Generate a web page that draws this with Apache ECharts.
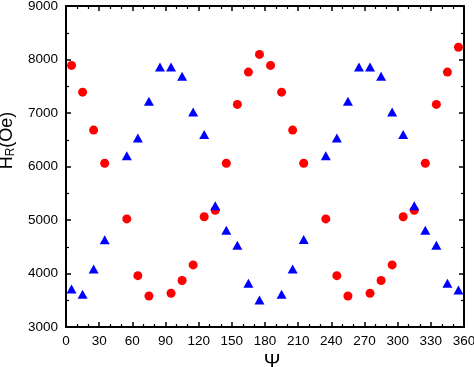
<!DOCTYPE html>
<html>
<head>
<meta charset="utf-8">
<script src="https://cdn.jsdelivr.net/npm/echarts@6/dist/echarts.min.js"></script>
<style>html,body{margin:0;padding:0;background:#fff;}#c{width:474px;height:367px;}</style>
</head>
<body>
<div id="c"></div>
<script>
const xTicks = [0, 30, 60, 90, 120, 150, 180, 210, 240, 270, 300, 330, 360];
const yTicks = [3000, 4000, 5000, 6000, 7000, 8000, 9000];

const redPsi = [5, 15, 25, 35, 55, 65, 75, 95, 105, 115, 125, 135, 145, 155, 165, 175, 185, 195, 205, 215, 235, 245, 255, 275, 285, 295, 305, 315, 325, 335, 345, 355];
const redHR  = [7890, 7390, 6680, 6060, 5020, 3960, 3580, 3630, 3870, 4160, 5060, 5180, 6060, 7160, 7765, 8095, 7890, 7390, 6680, 6060, 5020, 3960, 3580, 3630, 3870, 4160, 5060, 5180, 6060, 7160, 7765, 8230];

const bluePsi = [5, 15, 25, 35, 55, 65, 75, 85, 95, 105, 115, 125, 135, 145, 155, 165, 175, 195, 205, 215, 235, 245, 255, 265, 275, 285, 295, 305, 315, 325, 335, 345, 355];
const blueHR  = [3710, 3610, 4085, 4630, 6200, 6535, 7220, 7860, 7860, 7685, 7020, 6600, 5265, 4810, 4530, 3820, 3505, 3610, 4085, 4635, 6200, 6535, 7220, 7860, 7860, 7685, 7020, 6600, 5265, 4810, 4530, 3820, 3690];

const font = 'Liberation Sans, Arial, Helvetica, sans-serif';
const chart = echarts.init(document.getElementById('c'), null, {renderer: 'canvas'});

function xAxisCfg(pos, labels) {
  return {
    type: 'value', position: pos, min: xTicks[0], max: xTicks[xTicks.length - 1], interval: 30,
    axisLine: {show: true, onZero: false, lineStyle: {color: '#000', width: 2}},
    axisTick: {show: true, inside: true, length: 5, lineStyle: {color: '#000', width: 1.5}},
    minorTick: {show: true, splitNumber: 3, length: 3, lineStyle: {color: '#000', width: 1.2}},
    splitLine: {show: false},
    axisLabel: {show: labels, color: '#000', fontFamily: font, fontSize: 13.5, margin: 7, formatter: v => String(v)},
    name: labels ? 'Ψ' : '',
    nameLocation: 'middle', nameGap: 22,
    nameTextStyle: {color: '#000', fontFamily: font, fontSize: 20, padding: [0, 0, 0, 14]}
  };
}
function yAxisCfg(pos, labels) {
  return {
    type: 'value', position: pos, min: yTicks[0], max: yTicks[yTicks.length - 1], interval: 1000,
    axisLine: {show: true, onZero: false, lineStyle: {color: '#000', width: 2}},
    axisTick: {show: true, inside: true, length: 5, lineStyle: {color: '#000', width: 1.5}},
    minorTick: {show: true, splitNumber: 2, length: 3, lineStyle: {color: '#000', width: 1.2}},
    splitLine: {show: false},
    axisLabel: {show: labels, color: '#000', fontFamily: font, fontSize: 13.5, margin: 8, formatter: v => String(v)},
    name: labels ? '{h|H}{s|R}{h|(Oe)}' : '',
    nameLocation: 'middle', nameGap: 48, nameRotate: 90,
    nameTextStyle: {
      color: '#000', fontFamily: font, fontSize: 18, padding: [0, 0, 0, 52],
      rich: {
        h: {fontSize: 18, fontFamily: font, color: '#000'},
        s: {fontSize: 12, fontFamily: font, color: '#000', verticalAlign: 'bottom', padding: [8, 0, 0, 0]}
      }
    }
  };
}

chart.setOption({
  animation: false,
  backgroundColor: '#fff',
  grid: {left: 66, right: 10, top: 6, bottom: 40, containLabel: false, outerBoundsMode: 'none'},
  xAxis: [xAxisCfg('bottom', true), xAxisCfg('top', false)],
  yAxis: [yAxisCfg('left', true), yAxisCfg('right', false)],
  series: [
    {
      type: 'scatter', xAxisIndex: 0, yAxisIndex: 0,
      symbol: 'circle', symbolSize: 9,
      itemStyle: {color: '#ff0000', opacity: 1},
      data: redPsi.map((p, i) => [p, redHR[i]])
    },
    {
      type: 'scatter', xAxisIndex: 0, yAxisIndex: 0,
      symbol: 'triangle', symbolSize: [10, 9],
      itemStyle: {color: '#0000ff', opacity: 1},
      data: bluePsi.map((p, i) => [p, blueHR[i]])
    }
  ]
});
</script>
</body>
</html>
